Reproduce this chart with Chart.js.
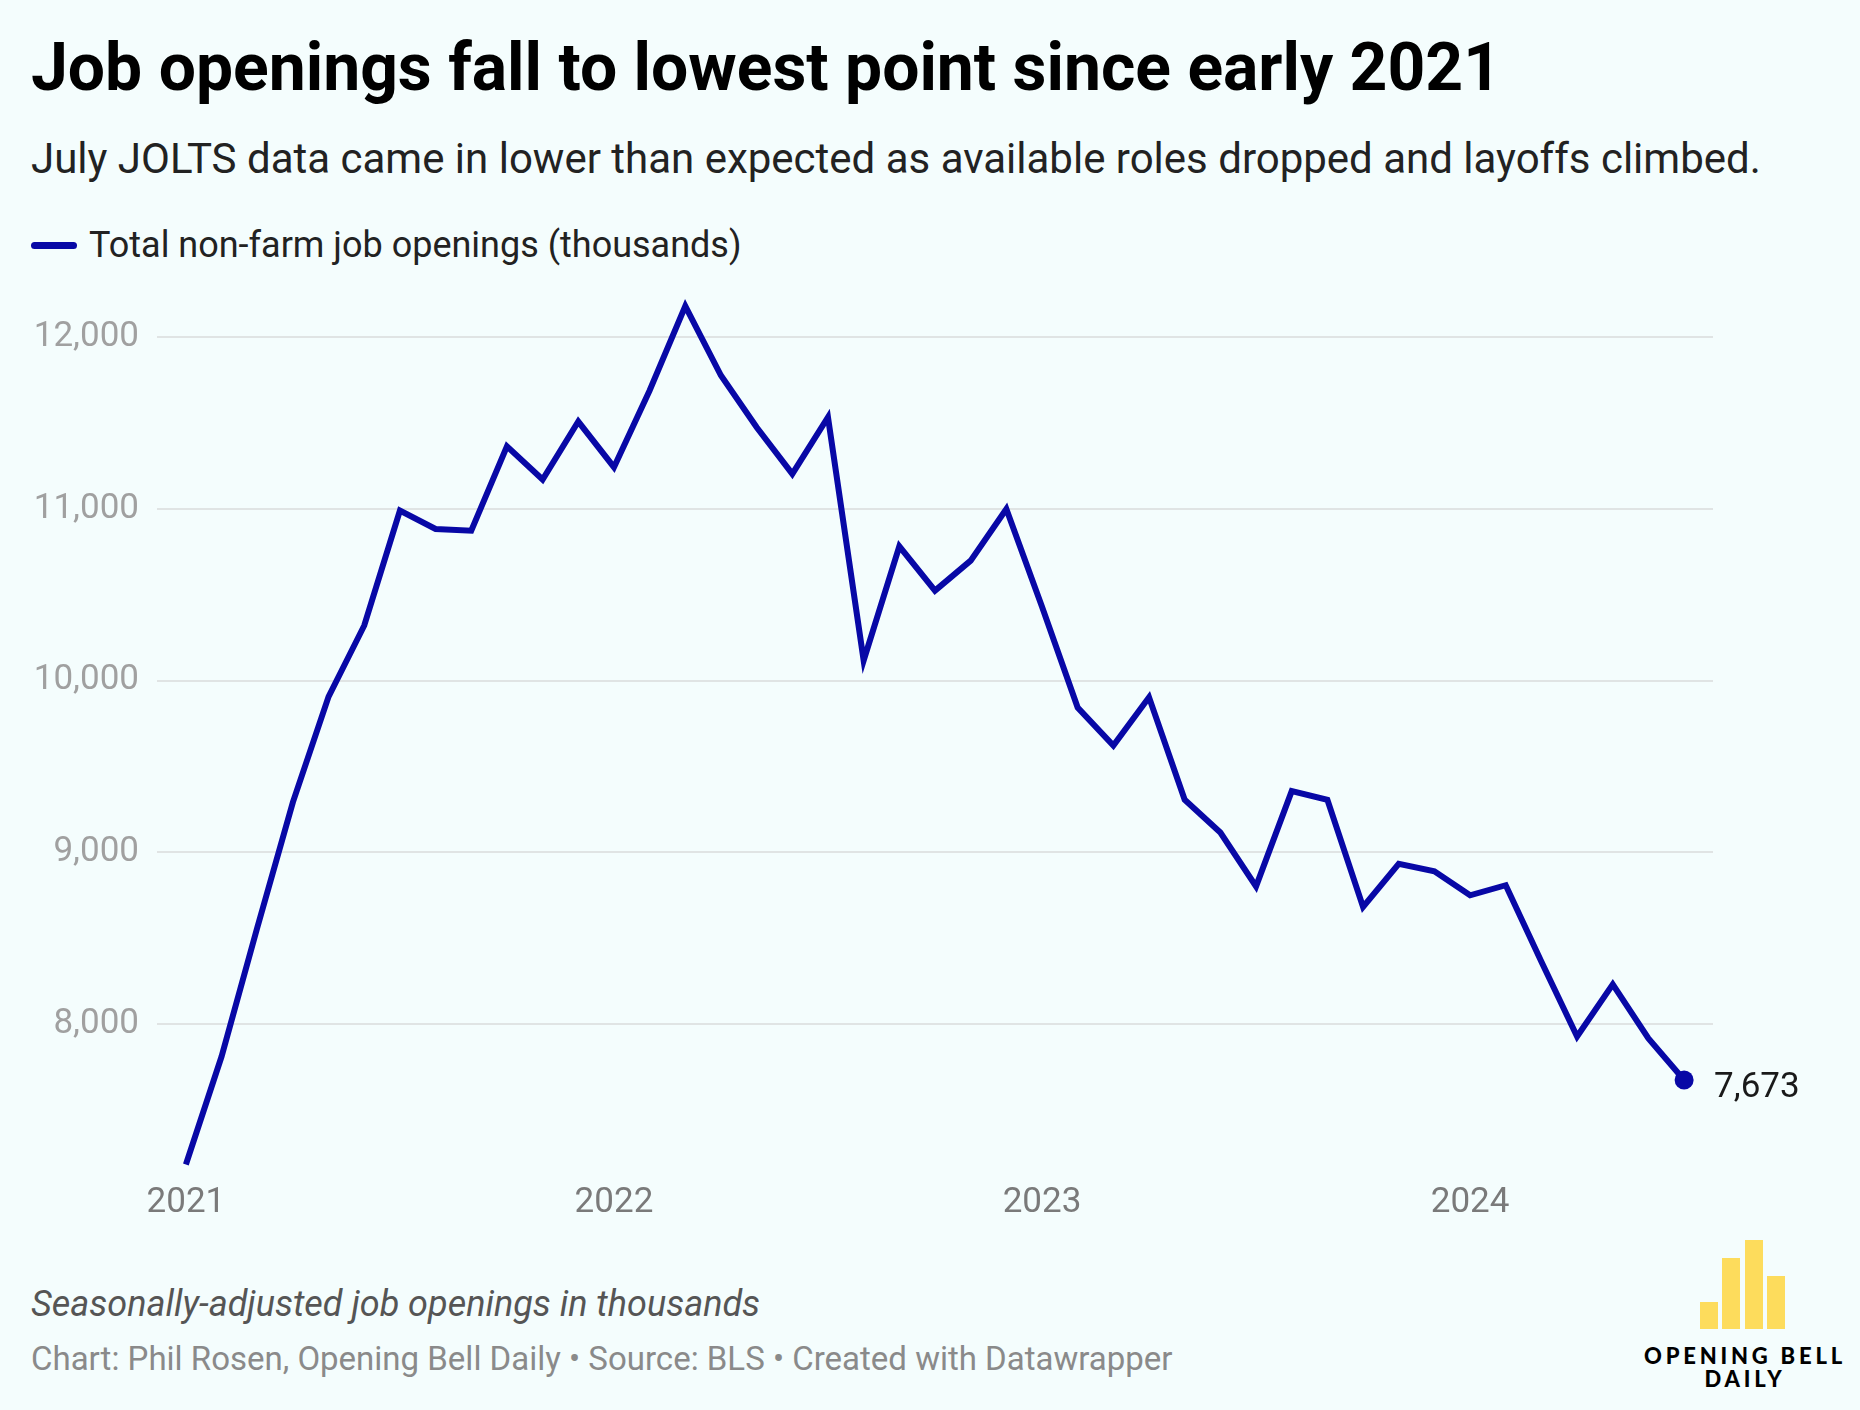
<!DOCTYPE html>
<html>
<head>
<meta charset="utf-8">
<script src="https://cdn.jsdelivr.net/npm/chart.js@4.4.1/dist/chart.umd.min.js"></script>
<style>
  html, body { margin: 0; padding: 0; }
  body { width: 1860px; height: 1410px; background: #f4fdfd; position: relative; overflow: hidden; font-family: Roboto, "Noto Sans", sans-serif; }
  .t { position: absolute; white-space: nowrap; line-height: 1; }
  #title { left: 31px; top: 35px; font-size: 66px; font-weight: 700; color: #000; }
  #subtitle { left: 31px; top: 138px; font-size: 42px; color: #222; }
  #legend { left: 89px; top: 227px; font-size: 36px; color: #222; }
  #legline { position: absolute; left: 31px; top: 242px; width: 46px; height: 7px; border-radius: 4px; background: #0808a6; }
  #note { left: 31px; top: 1286px; font-size: 36px; font-style: italic; color: #555; }
  #credit { left: 31px; top: 1342px; font-size: 33px; color: #8a8a8a; }
  #chartwrap { position: absolute; left: 0; top: 240px; width: 1860px; height: 1000px; }
  .bar { position: absolute; background: #fddc5c; }
  #logotext { position: absolute; left: 1630px; top: 1344px; width: 230px; text-align: center; font-family: Lato, "DejaVu Sans", sans-serif; font-weight: 900; font-size: 22px; letter-spacing: 3.8px; line-height: 23px; color: #000; }
</style>
</head>
<body>
<div class="t" id="title">Job openings fall to lowest point since early 2021</div>
<div class="t" id="subtitle">July JOLTS data came in lower than expected as available roles dropped and layoffs climbed.</div>
<div id="legline"></div>
<div class="t" id="legend">Total non-farm job openings (thousands)</div>
<div id="chartwrap"><canvas id="c" width="1860" height="1000"></canvas></div>
<div class="t" id="note">Seasonally-adjusted job openings in thousands</div>
<div class="t" id="credit">Chart: Phil Rosen, Opening Bell Daily • Source: BLS • Created with Datawrapper</div>
<div class="bar" style="left:1700px; top:1302px; width:18px; height:27px;"></div>
<div class="bar" style="left:1722px; top:1258px; width:18px; height:71px;"></div>
<div class="bar" style="left:1745px; top:1240px; width:18px; height:89px;"></div>
<div class="bar" style="left:1767px; top:1276px; width:18px; height:53px;"></div>
<div id="logotext">OPENING BELL<br>DAILY</div>

<script>
// Monthly data, Jan 2021 – Jul 2024 (index 0 = Jan 2021)
const months = [
  "2021-01","2021-02","2021-03","2021-04","2021-05","2021-06","2021-07","2021-08","2021-09","2021-10","2021-11","2021-12",
  "2022-01","2022-02","2022-03","2022-04","2022-05","2022-06","2022-07","2022-08","2022-09","2022-10","2022-11","2022-12",
  "2023-01","2023-02","2023-03","2023-04","2023-05","2023-06","2023-07","2023-08","2023-09","2023-10","2023-11","2023-12",
  "2024-01","2024-02","2024-03","2024-04","2024-05","2024-06","2024-07"
];
const jobOpenings = [
  7181, 7810, 8560, 9292, 9907, 10321, 10990, 10883, 10873, 11365, 11171, 11509,
  11243, 11690, 12182, 11777, 11476, 11204, 11534, 10117, 10782, 10524, 10699, 11000,
  10430, 9843, 9621, 9903, 9306, 9115, 8801, 9356, 9306, 8682, 8933, 8889,
  8749, 8808, 8362, 7927, 8231, 7915, 7673
];
const yearLabels = ["2021", "2022", "2023", "2024"];
const yearTickIndex = [0, 12, 24, 36];
const yTicks = [8000, 9000, 10000, 11000, 12000];
const seriesName = "Total non-farm job openings (thousands)";

const points = jobOpenings.map((v, i) => ({ x: i, y: v }));
const lastIdx = jobOpenings.length - 1;
const fmt = v => v.toLocaleString("en-US");

const endLabel = {
  id: "endLabel",
  afterDatasetsDraw(chart) {
    const meta = chart.getDatasetMeta(0);
    const pt = meta.data[lastIdx];
    const ctx = chart.ctx;
    ctx.save();
    ctx.font = "35px Roboto";
    ctx.fillStyle = "#1a1a1a";
    ctx.textAlign = "left";
    ctx.textBaseline = "alphabetic";
    ctx.fillText(fmt(jobOpenings[lastIdx]), pt.x + 30, pt.y + 17);
    ctx.restore();
  }
};

new Chart(document.getElementById("c"), {
  type: "line",
  data: {
    datasets: [{
      label: seriesName,
      data: points,
      borderColor: "#0808a6",
      backgroundColor: "#0808a6",
      borderWidth: 6,
      tension: 0,
      pointRadius: ctx => ctx.dataIndex === lastIdx ? 9.5 : 0,
      pointHoverRadius: 0,
      pointBorderWidth: 0,
      pointBackgroundColor: "#0808a6",
      clip: false
    }]
  },
  options: {
    responsive: false,
    animation: false,
    devicePixelRatio: 1,
    layout: { padding: { left: 0, right: 147, top: 20, bottom: 0 } },
    plugins: { legend: { display: false }, tooltip: { enabled: false } },
    scales: {
      x: {
        type: "linear",
        min: -0.81,
        max: 42.81,
        afterBuildTicks: s => { s.ticks = yearTickIndex.map(v => ({ value: v })); },
        afterFit: s => { s.height = 65; s.paddingLeft = 0; s.paddingRight = 0; },
        grid: { display: false, drawTicks: false },
        border: { display: false },
        ticks: {
          padding: 7,
          maxRotation: 0,
          autoSkip: false,
          color: "#7a7a7a",
          font: { family: "Roboto", size: 35 },
          callback: v => { const k = yearTickIndex.indexOf(v); return k >= 0 ? yearLabels[k] : ""; }
        }
      },
      y: {
        min: 7120,
        max: 12450,
        afterBuildTicks: s => { s.ticks = yTicks.map(v => ({ value: v })); },
        afterFit: s => { s.width = 157; s.paddingTop = 0; s.paddingBottom = 0; },
        grid: { color: "#e0e4e4", lineWidth: 2, drawTicks: false },
        border: { display: false },
        ticks: {
          padding: 18,
          color: "#a0a0a0",
          font: { family: "Roboto", size: 35 },
          callback: v => fmt(v)
        }
      }
    }
  },
  plugins: [endLabel]
});
</script>
</body>
</html>
